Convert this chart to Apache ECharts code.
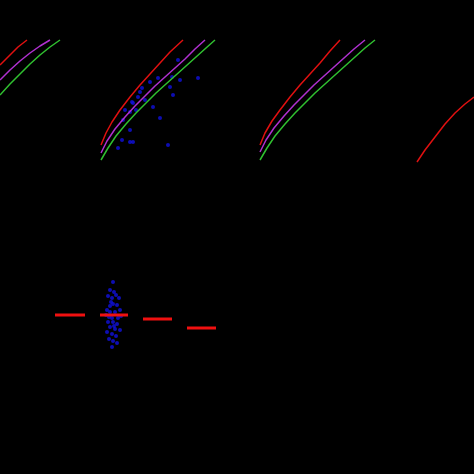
<!DOCTYPE html><html><head><script src="https://cdn.jsdelivr.net/npm/echarts@6/dist/echarts.min.js"></script></head>
<body style="margin:0;background:#000"><div id="c" style="width:474px;height:474px"></div><script>
const red1=[[0,65],[6,59],[12,53],[18,47],[27,40]];
const pur1=[[0,80],[10,70],[20,61],[30,53],[40,46],[50,40]];
const grn1=[[0,95],[10,84],[20,74],[30,64],[40,55],[50,47],[60,40]];
const red2=[[101,145],[106,133],[112,122],[120,110],[130,97],[140,85],[150,74],[160,63],[170,52],[183,40]];
const pur2=[[101,153],[107,141],[115,129],[125,117],[135,106],[145,96],[155,86],[165,77],[175,68],[185,59],[195,49],[205,40]];
const grn2=[[101,160],[108,148],[116,136],[126,124],[136,113],[146,103],[156,93],[166,84],[176,75],[186,66],[196,57],[206,48],[215,40]];
const red3=[[260,145],[265,133],[272,121],[280,110],[290,97],[300,85],[310,74],[320,63],[330,51],[340,40]];
const pur3=[[260,152],[266,140],[274,128],[284,116],[294,105],[304,95],[314,85],[324,76],[334,67],[344,58],[354,49],[365,40]];
const grn3=[[260,160],[267,148],[275,136],[285,124],[295,113],[305,103],[315,93],[325,84],[335,75],[345,66],[355,57],[365,48],[375,40]];
const red4=[[417,162],[425,150],[435,137],[445,124],[455,113],[465,104],[474,97]];
const blueTop=[[178,60],[198,78],[180,80],[172,77],[150,82],[158,78],[140,92],[138,97],[133,103],[132,102],[125,110],[130,112],[153,107],[173,95],[160,118],[123,120],[130,130],[122,140],[130,142],[133,142],[118,148],[168,145],[170,87],[142,88],[145,100],[136,110]];
const meds=[[[55,315],[85,315]],[[100,315],[128,315]],[[143,319],[172,319]],[[187,328],[216,328]]];
const blueBot=[[113,282],[110,290],[114,292],[108,296],[112,298],[116,295],[119,298],[111,302],[113,304],[117,305],[107,310],[110,312],[115,312],[120,310],[106,315],[109,317],[112,318],[118,318],[121,316],[108,322],[113,322],[117,324],[110,327],[115,329],[120,330],[107,332],[112,334],[116,336],[109,339],[113,341],[117,343],[112,347],[114,326],[110,306]];
const line=(d,c)=>({type:'line',data:d,showSymbol:false,lineStyle:{color:c,width:1.5},animation:false});
const series=[line(red1,'#e01010'),line(pur1,'#b030d0'),line(grn1,'#30c030'),line(red2,'#e01010'),line(pur2,'#b030d0'),line(grn2,'#30c030'),line(red3,'#e01010'),line(pur3,'#b030d0'),line(grn3,'#30c030'),line(red4,'#e01010'),
{type:'scatter',data:blueTop,symbolSize:4,itemStyle:{color:'#1010e0'},animation:false},
{type:'scatter',data:blueBot,symbolSize:4,itemStyle:{color:'#1010e0'},animation:false}];
meds.forEach(m=>series.push({type:'line',data:m,showSymbol:false,lineStyle:{color:'#f01010',width:3},animation:false}));
echarts.init(document.getElementById('c')).setOption({backgroundColor:'#000',
grid:{left:0,right:0,top:0,bottom:0},
xAxis:{type:'value',min:0,max:474,show:false},
yAxis:{type:'value',min:0,max:474,inverse:true,show:false},series});
</script></body></html>
